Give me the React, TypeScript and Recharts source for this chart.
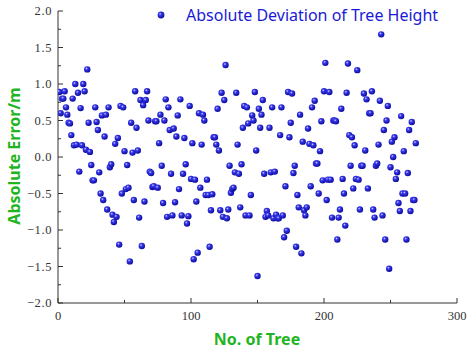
import { ScatterChart, Scatter, XAxis, YAxis } from "recharts"

// absolute deviation (m) per tree, tree number = index + 1
const errors = [
  0.89, 0.6, 0.8, 0.8, 0.9, 0.68, 0.58, 0.47, 0.46, 0.3,
  0.8, 0.16, 1.0, 0.17, 0.88, -0.2, 0.67, 0.16, 1.0, 0.9,
  0.1, 1.2, 0.47, 0.07, -0.11, -0.32, -0.32, 0.68, 0.48, 0.37,
  -0.21, -0.5, 0.57, -0.59, 0.28, 0.58, -0.72, 0.68, -0.14, -0.1,
  -0.79, -0.89, 0.18, -0.82, 0.26, -1.2, 0.7, -0.5, 0.68, 0.08,
  -0.44, -0.11, -0.42, -1.43, 0.47, 0.06, -0.59, 0.9, 0.4, 0.09,
  -0.83, 0.78, -1.22, 0.71, -0.61, 0.78, 0.9, 0.5, -0.2, -0.22,
  -0.41, -0.4, 0.49, 0.49, -0.42, 0.19, 0.58, -0.12, -0.63, 0.5,
  0.79, -0.82, 0.68, 0.37, -0.23, -0.8, 0.39, -0.62, 0.28, 0.57,
  -0.44, 0.79, -0.8, -0.23, 0.26, -0.1, -0.91, -0.81, 0.7, -0.3,
  0.19, -1.4, -0.31, -0.61, -1.31, 0.6, -0.42, 0.17, 0.58, 0.5,
  -0.52, -0.31, -0.52, -1.23, -0.73, -0.51, 0.27, 0.27, 0.17, 0.66,
  0.09, -0.73, 0.88, -0.82, 0.78, 1.26, -0.84, -0.72, -0.12, -0.49,
  -0.44, -0.42, -0.21, 0.88, 0.17, -0.23, -0.69, -0.1, 0.4, 0.7,
  -0.8, 0.68, 0.46, -0.8, -0.52, 0.57, 0.5, 0.89, 0.09, -1.63,
  0.66, 0.4, 0.58, 0.78, -0.23, -0.82, -0.74, -0.8, 0.4, -0.21,
  0.68, -0.84, -0.2, -0.79, -0.84, -0.84, 0.3, 0.68, -0.8, -1.1,
  -0.4, -1.01, 0.89, 0.27, 0.47, 0.87, -0.22, -0.12, -1.23, -0.52,
  -0.69, 0.58, -1.32, 0.21, -0.73, -0.8, -0.69, 0.39, 0.18, -0.4,
  0.68, 0.16, 0.77, -0.09, -0.09, -0.5, 0.08, 0.49, -0.32, 0.9,
  1.29, -0.59, -0.31, 0.89, -0.31, -0.83, 0.5, 0.5, 0.49, -1.13,
  -0.83, -0.72, 0.66, -0.3, -0.5, -0.94, 0.88, 1.28, 0.3, -0.12,
  0.27, -0.43, 0.16, -0.3, 1.19, -0.31, -0.72, -0.12, -0.12, 0.87,
  0.09, 0.79, -0.43, 0.6, 0.6, 0.9, -0.72, -0.83, -0.12, -0.09,
  0.17, 0.77, 1.68, -0.8, 0.37, -1.13, 0.5, 0.7, -1.53, -0.14,
  0.21, 0.0, 0.27, -0.3, -0.21, -0.63, -0.74, 0.56, -0.5, 0.08,
  -0.5, -1.13, -0.22, 0.37, -0.74, 0.48, -0.59, -0.59, 0.19,
]

const xTicks = [0, 50, 100, 150, 200, 250, 300]
const xLabels = [0, 100, 200, 300]
const yTicks = [-2, -1.75, -1.5, -1.25, -1, -0.75, -0.5, -0.25, 0, 0.25, 0.5, 0.75, 1, 1.25, 1.5, 1.75, 2]
const yLabels = [-2, -1.5, -1, -0.5, 0, 0.5, 1, 1.5, 2]

const seriesName = "Absolute Deviation of Tree Height"

const points = errors.map((e, i) => ({ tree: i + 1, err: e }))

const tickFont = "'Liberation Serif', 'DejaVu Serif', serif"
const green = "#1fb51f"
const axisColor = "#333"

const fmtY = (v: number) => (v < 0 ? "\u2212" : "") + Math.abs(v).toFixed(1)

const XTick = (props: any) => {
  const { x, y, payload } = props
  const v = payload.value as number
  const major = xLabels.includes(v)
  return (
    <g>
      <line x1={x} x2={x} y1={y} y2={y - (major ? 5 : 3)} stroke={axisColor} strokeWidth={1} />
      {major && (
        <text x={x} y={y + 17} textAnchor="middle" fontFamily={tickFont} fontSize={12.5} fill="#333">
          {v}
        </text>
      )}
    </g>
  )
}

const YTick = (props: any) => {
  const { x, y, payload } = props
  const v = payload.value as number
  const major = yLabels.includes(v)
  return (
    <g>
      <line x1={x} x2={x + (major ? 5 : 3)} y1={y} y2={y} stroke={axisColor} strokeWidth={1} />
      {major && (
        <text x={x - 6} y={y + 4} textAnchor="end" fontFamily={tickFont} fontSize={12.5} fill="#333" letterSpacing={0.6}>
          {fmtY(v)}
        </text>
      )}
    </g>
  )
}

const Ball = (props: any) => {
  const { cx, cy } = props
  if (cx == null || cy == null) return null
  return <circle cx={cx} cy={cy} r={3.2} fill="url(#ball)" />
}

export default function App() {
  return (
    <div style={{ position: "absolute", left: 0, top: 0, width: 474, height: 353, background: "#fff" }}>
      <ScatterChart width={474} height={353} margin={{ top: 11, right: 17, bottom: 0, left: 0 }}>
        <defs>
          <radialGradient id="ball" cx="38%" cy="35%" r="65%">
            <stop offset="0%" stopColor="#d8d8ff" />
            <stop offset="30%" stopColor="#3a3af0" />
            <stop offset="100%" stopColor="#0a0a9a" />
          </radialGradient>
        </defs>
        <XAxis
          type="number"
          dataKey="tree"
          domain={[0, 300]}
          ticks={xTicks}
          interval={0}
          height={50}
          tickSize={0}
          tickMargin={0}
          tickLine={false}
          axisLine={{ stroke: axisColor, strokeWidth: 1 }}
          tick={<XTick />}
          allowDataOverflow
        />
        <YAxis
          type="number"
          dataKey="err"
          domain={[-2, 2]}
          ticks={yTicks}
          interval={0}
          width={58}
          tickSize={0}
          tickMargin={0}
          tickLine={false}
          axisLine={{ stroke: axisColor, strokeWidth: 1 }}
          tick={<YTick />}
          allowDataOverflow
        />
        <Scatter data={points} fill="#1a1acc" shape={<Ball />} isAnimationActive={false} />
        <circle cx={161} cy={15} r={3.4} fill="url(#ball)" />
        <text x={186} y={21} fontFamily="'Noto Sans', 'Open Sans', sans-serif" fontSize={16} fill="#1a1ad6">
          {seriesName}
        </text>
        <text
          x={14}
          y={156}
          transform="rotate(-90 14 156)"
          textAnchor="middle"
          dominantBaseline="central"
          fontFamily="'Noto Sans', 'Open Sans', sans-serif"
          fontWeight="bold"
          fontSize={16}
          fill={green}
        >
          Absolute Error/m
        </text>
        <text
          x={257}
          y={345}
          textAnchor="middle"
          fontFamily="'Noto Sans', 'Open Sans', sans-serif"
          fontWeight="bold"
          fontSize={16}
          fill={green}
        >
          No. of Tree
        </text>
      </ScatterChart>
    </div>
  )
}
